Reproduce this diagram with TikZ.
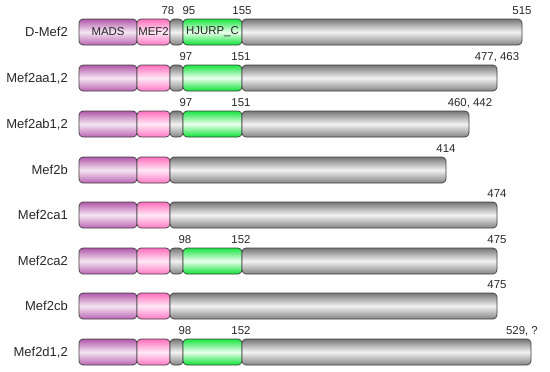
\documentclass[tikz,border=0pt]{standalone}
\usepackage{fontspec}
\setmainfont{Liberation Sans}
\usepackage{tikz}
\usetikzlibrary{positioning}
\definecolor{edge}{RGB}{64,64,64}
\definecolor{ink}{RGB}{40,40,40}
\definecolor{madsTop}{RGB}{176,88,168}
\definecolor{madsMid}{RGB}{245,230,243}
\definecolor{madsBot}{RGB}{186,100,178}
\definecolor{mefTop}{RGB}{255,110,190}
\definecolor{mefMid}{RGB}{255,232,245}
\definecolor{mefBot}{RGB}{255,122,198}
\definecolor{grnTop}{RGB}{24,228,64}
\definecolor{grnMid}{RGB}{236,255,238}
\definecolor{grnBot}{RGB}{12,226,52}
\definecolor{gryTop}{RGB}{118,118,118}
\definecolor{gryMid}{RGB}{242,242,242}
\definecolor{gryBot}{RGB}{132,132,132}
\newcommand{\numfont}{\fontsize{11.4pt}{13pt}\selectfont}
\newcommand{\labfont}{\fontsize{13pt}{15pt}\selectfont}

\begin{document}
\begin{tikzpicture}[x=1pt, y=1pt, font=\numfont, text=ink,
  dom/.style={draw=edge, line width=0.7pt, rounded corners=4pt, minimum height=26pt,
              inner sep=0pt, outer sep=0pt},
  mads/.style={dom, minimum width=58pt, top color=madsTop, bottom color=madsBot, middle color=madsMid},
  mef/.style={dom, minimum width=33pt, top color=mefTop, bottom color=mefBot, middle color=mefMid},
  lnk/.style={dom, minimum width=13pt, top color=gryTop, bottom color=gryBot, middle color=gryMid},
  hjurp/.style={dom, minimum width=59pt, top color=grnTop, bottom color=grnBot, middle color=grnMid},
  tail/.style={dom, top color=gryTop, bottom color=gryBot, middle color=gryMid},
  rowlab/.style={font=\labfont, inner sep=0pt, text height=9.3pt, text depth=0pt},
  num/.style={inner sep=0pt, text depth=0pt}]
  \useasboundingbox (0,0) rectangle (550,-372);
  % D-Mef2, with domain names
  \node[mads, anchor=west] (mads1) at (79,-32) {MADS};
  \node[mef, right=0pt of mads1] (mef1) {MEF2};
  \node[rowlab, left=11pt of mads1] (lab1) {D-Mef2};
  % the other rows start the same way
  \foreach \r/\y/\lab in {2/78/{Mef2aa1,2}, 3/124/{Mef2ab1,2}, 4/170/Mef2b, 5/215/Mef2ca1,
                          6/261/Mef2ca2, 7/306/Mef2cb, 8/352/{Mef2d1,2}} {
    \node[mads, anchor=west] (mads\r) at (79,-\y) {};
    \node[mef, right=0pt of mads\r] (mef\r) {};
    \node[rowlab, left=11pt of mads\r] (lab\r) {\lab};
  }
  % linker + HJURP_C
  \node[lnk, right=0pt of mef1] (lnk1) {};
  \node[hjurp, right=0pt of lnk1] (hj1) {HJURP\_C};
  \node[lnk, right=0pt of mef2] (lnk2) {};
  \node[hjurp, right=0pt of lnk2] (hj2) {};
  \node[lnk, right=0pt of mef3] (lnk3) {};
  \node[hjurp, right=0pt of lnk3] (hj3) {};
  \node[lnk, right=0pt of mef6] (lnk6) {};
  \node[hjurp, right=0pt of lnk6] (hj6) {};
  \node[lnk, right=0pt of mef8] (lnk8) {};
  \node[hjurp, right=0pt of lnk8] (hj8) {};
  % C-terminal tails
  \node[tail, minimum width=280pt, right=0pt of hj1] (tail1) {};
  \node[tail, minimum width=255pt, right=0pt of hj2] (tail2) {};
  \node[tail, minimum width=227pt, right=0pt of hj3] (tail3) {};
  \node[tail, minimum width=276pt, right=0pt of mef4] (tail4) {};
  \node[tail, minimum width=327pt, right=0pt of mef5] (tail5) {};
  \node[tail, minimum width=255pt, right=0pt of hj6] (tail6) {};
  \node[tail, minimum width=327pt, right=0pt of mef7] (tail7) {};
  \node[tail, minimum width=289pt, right=0pt of hj8] (tail8) {};
  % residue numbers
  \node[num, above=4pt of mef1.north east, xshift=-2pt] (n1a) {78};
  \node[num, above=4pt of hj1.north west, xshift=6pt] (n1b) {95};
  \node[num, above=4pt of hj1.north east] (n1c) {155};
  \node[num, above=4pt of tail1.north east] (n1d) {515};
  \node[num, above=4pt of hj2.north west, xshift=3pt] (n2a) {97};
  \node[num, above=4pt of hj2.north east, xshift=-1pt] (n2b) {151};
  \node[num, above=4pt of tail2.north east] (n2c) {477, 463};
  \node[num, above=4pt of hj3.north west, xshift=3pt] (n3a) {97};
  \node[num, above=4pt of hj3.north east, xshift=-1pt] (n3b) {151};
  \node[num, above=4pt of tail3.north east, xshift=1pt] (n3c) {460, 442};
  \node[num, above=4pt of tail4.north east] (n4) {414};
  \node[num, above=4pt of tail5.north east] (n5) {474};
  \node[num, above=4pt of hj6.north west, xshift=2pt] (n6a) {98};
  \node[num, above=4pt of hj6.north east, xshift=-1pt] (n6b) {152};
  \node[num, above=4pt of tail6.north east] (n6c) {475};
  \node[num, above=4pt of tail7.north east] (n7) {475};
  \node[num, above=4pt of hj8.north west, xshift=2pt] (n8a) {98};
  \node[num, above=4pt of hj8.north east, xshift=-1pt] (n8b) {152};
  \node[num, above=4pt of tail8.north east, xshift=-9pt] (n8c) {529, ?};
\end{tikzpicture}
\end{document}
